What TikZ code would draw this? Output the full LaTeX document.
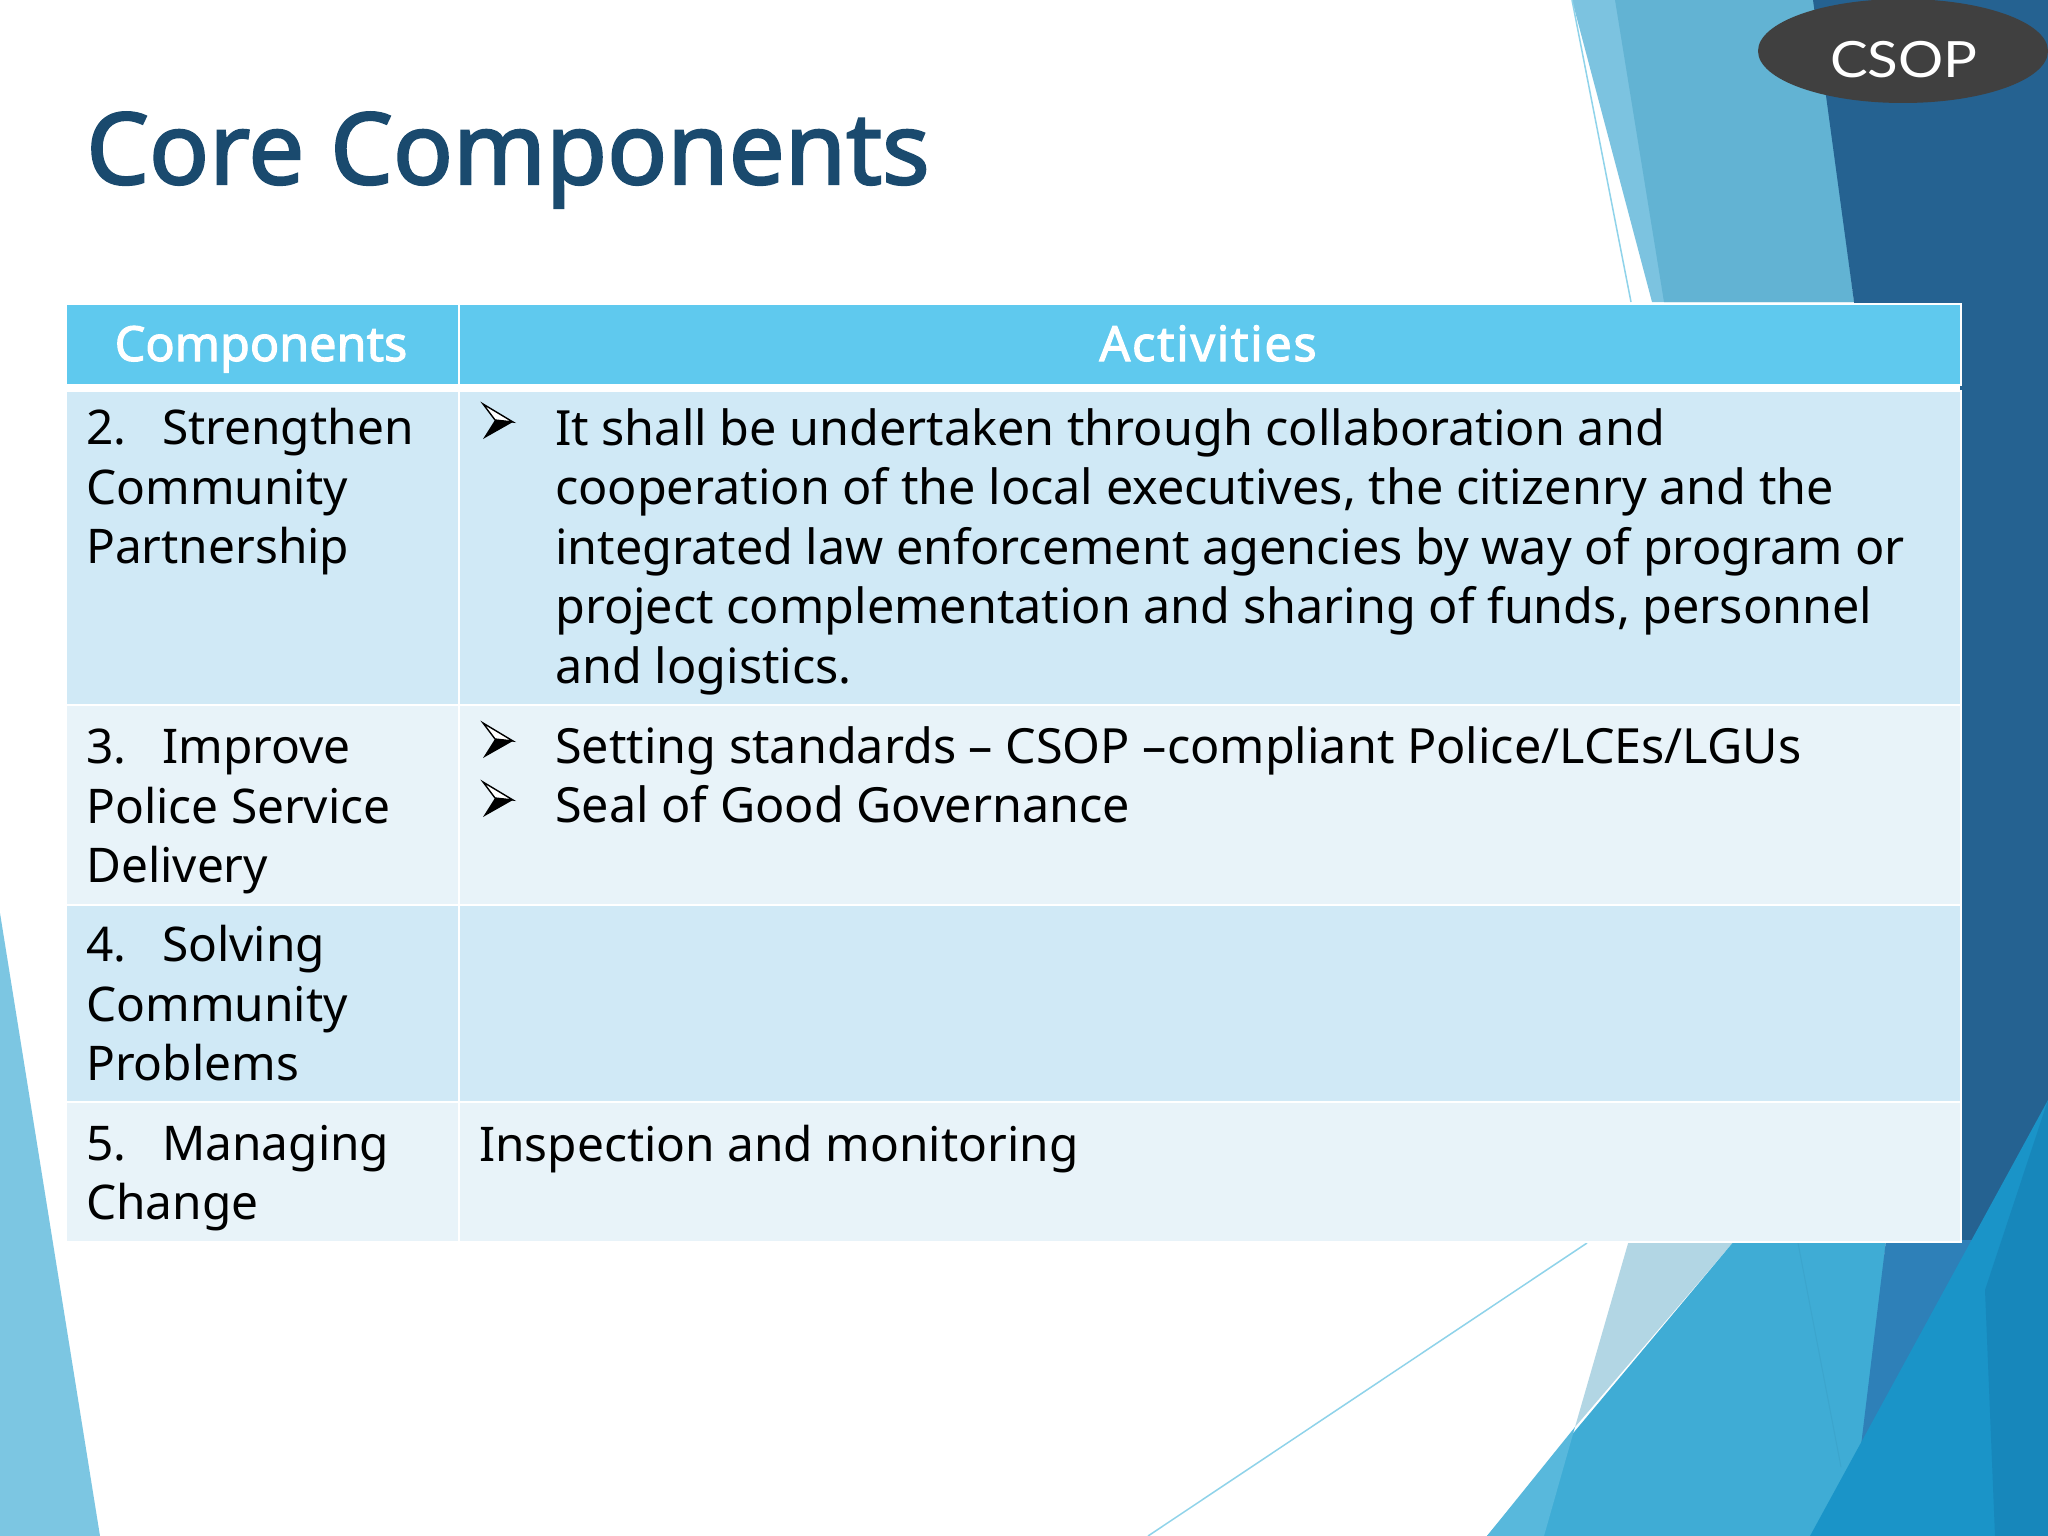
\documentclass[tikz,border=0pt]{standalone}
\usepackage{fontspec}
\usetikzlibrary{shapes.geometric}
\setmainfont{Noto Sans}
\newfontfamily\heavyfont{Noto Sans}[FakeBold=2.2]
\newfontfamily\widerfont{Noto Sans}[FakeBold=2.2,LetterSpace=3.5]
\newfontfamily\badgefont{Lato}[FakeStretch=1.13]
\definecolor{titleblue}{HTML}{1A4A6E}
\definecolor{headblue}{HTML}{5FC9EE}
\definecolor{rowdark}{HTML}{D0E9F6}
\definecolor{rowlight}{HTML}{E8F3F9}
\definecolor{navyband}{HTML}{256291}
\definecolor{tealband}{HTML}{62B3D3}
\definecolor{paleband}{HTML}{7CC3E0}
\definecolor{thinline}{HTML}{8FD3EA}
\definecolor{paleshard}{HTML}{B2D6E4}
\definecolor{midshard}{HTML}{3FACD5}
\definecolor{lightshard}{HTML}{58B8DC}
\definecolor{blueshard}{HTML}{2E80B8}
\definecolor{frontshard}{HTML}{1A94C8}
\definecolor{backshard}{HTML}{1787BB}
\definecolor{leftshard}{HTML}{7CC6E2}
\tikzset{
  cell/.style={draw=white,line width=2pt,inner sep=0pt,anchor=north west},
  head/.style={font=\heavyfont\fontsize{48.5}{50}\selectfont,text=white,inner sep=0pt,anchor=base},
  body/.style={font=\fontsize{48.5}{59.5}\selectfont,text=black,inner sep=0pt,anchor=north west,align=left},
  side/.style={body,font=\fontsize{47.8}{59.5}\selectfont},
  arrowmark/.pic={
    \draw[black,line width=1.4pt,fill=white,line join=miter] (-15,-18) -- (15,0) -- (-3,-2) -- cycle;
    \fill[black] (-15,17) -- (15,0) -- (-3,-2) -- cycle;
  }
}
\newcommand{\numlabel}[1]{\makebox[76pt][l]{#1}}
\begin{document}
\begin{tikzpicture}[x=1pt,y=-1pt]
  \useasboundingbox (0,0) rectangle (2048,1536);
  \fill[white] (0,0) rectangle (2048,1536);
  \fill[paleband] (1572,0) -- (1815,0) -- (1854,302) -- (1652,302) -- cycle;
  \fill[tealband] (1615,0) -- (1815,0) -- (1854,302) -- (1664,302) -- cycle;
  \fill[navyband] (1813,0) -- (2048,0) -- (2048,1300) -- (1900,1300) -- (1854,302) -- cycle;
  \draw[thinline,line width=1.5pt] (1572,0) -- (1631,302);
  \fill[leftshard] (0,913) -- (100,1536) -- (0,1536) -- cycle;
  \fill[paleshard] (1629,1240) -- (1735,1240) -- (1575,1427) -- cycle;
  \fill[midshard] (1735,1240) -- (1886,1240) -- (1868,1420) -- (1860,1536) -- (1487,1536) -- cycle;
  \fill[lightshard] (1487,1536) -- (1575,1427) -- (1544,1536) -- cycle;
  \fill[blueshard] (1886,1240) -- (1975,1240) -- (1880,1536) -- (1850,1536) -- cycle;
  \draw[black!4!midshard,line width=1pt] (1798,1243) -- (1841,1467);
  \fill[frontshard] (2048,1100) -- (2048,1536) -- (1810,1536) -- cycle;
  \fill[backshard] (2048,1100) -- (2048,1536) -- (1995,1536) -- (1985,1290) -- cycle;
  \draw[thinline,line width=1.5pt] (1587,1243) -- (1148,1536);
  \node[ellipse,fill=black!75,minimum width=290pt,minimum height=104pt,inner sep=0pt] (badge) at (1903,51) {};
  \node[font=\badgefont\fontsize{50}{50}\selectfont,text=white,inner sep=0pt] (badgetext) at (1904,60) {CSOP};
  \node[font=\heavyfont\fontsize{99.4}{110}\selectfont,text=titleblue,inner sep=0pt,anchor=west] (title) at (86,160) {Core Components};
  \fill[white] (65,384) rectangle (1960,391);
  \node[cell,fill=headblue,minimum width=393pt,minimum height=81pt] (h1) at (65,303) {};
  \node[cell,fill=headblue,minimum width=1502pt,minimum height=81pt] (h2) at (458,303) {};
  \node[cell,fill=rowdark,minimum width=393pt,minimum height=314pt] (a1) at (65,390) {};
  \node[cell,fill=rowdark,minimum width=1502pt,minimum height=314pt] (a2) at (458,390) {};
  \node[cell,fill=rowlight,minimum width=393pt,minimum height=200pt] (b1) at (65,704) {};
  \node[cell,fill=rowlight,minimum width=1502pt,minimum height=200pt] (b2) at (458,704) {};
  \node[cell,fill=rowdark,minimum width=393pt,minimum height=197pt] (c1) at (65,904) {};
  \node[cell,fill=rowdark,minimum width=1502pt,minimum height=197pt] (c2) at (458,904) {};
  \node[cell,fill=rowlight,minimum width=393pt,minimum height=140pt] (d1) at (65,1101) {};
  \node[cell,fill=rowlight,minimum width=1502pt,minimum height=140pt] (d2) at (458,1101) {};
  \node[head] (t1) at (261,361) {Components};
  \node[head,font=\widerfont\fontsize{48.5}{50}\selectfont] (t2) at (1208,361) {Activities};
  \node[side] (s1) at (86,408) {\numlabel{2.}Strengthen\\Community\\Partnership};
  \node[side] (s2) at (86,729) {\numlabel{3.}Improve\\Police Service\\Delivery};
  \node[side] (s3) at (86,925) {\numlabel{4.}Solving\\Community\\Problems};
  \node[side] (s4) at (86,1125) {\numlabel{5.}Managing\\Change};
  \node[body] (p1) at (555,408) {It shall be undertaken through collaboration and\\cooperation of the local executives, the citizenry and the\\integrated law enforcement agencies by way of program or\\project complementation and sharing of funds, personnel\\and logistics.};
  \node[body] (p2) at (555,726) {Setting standards – CSOP –compliant Police/LCEs/LGUs\\Seal of Good Governance};
  \node[side] (p3) at (479,1125) {Inspection and monitoring};
  \pic (q1) at (498,422) {arrowmark};
  \pic (q2) at (498,741) {arrowmark};
  \pic (q3) at (498,800) {arrowmark};
\end{tikzpicture}
\end{document}
